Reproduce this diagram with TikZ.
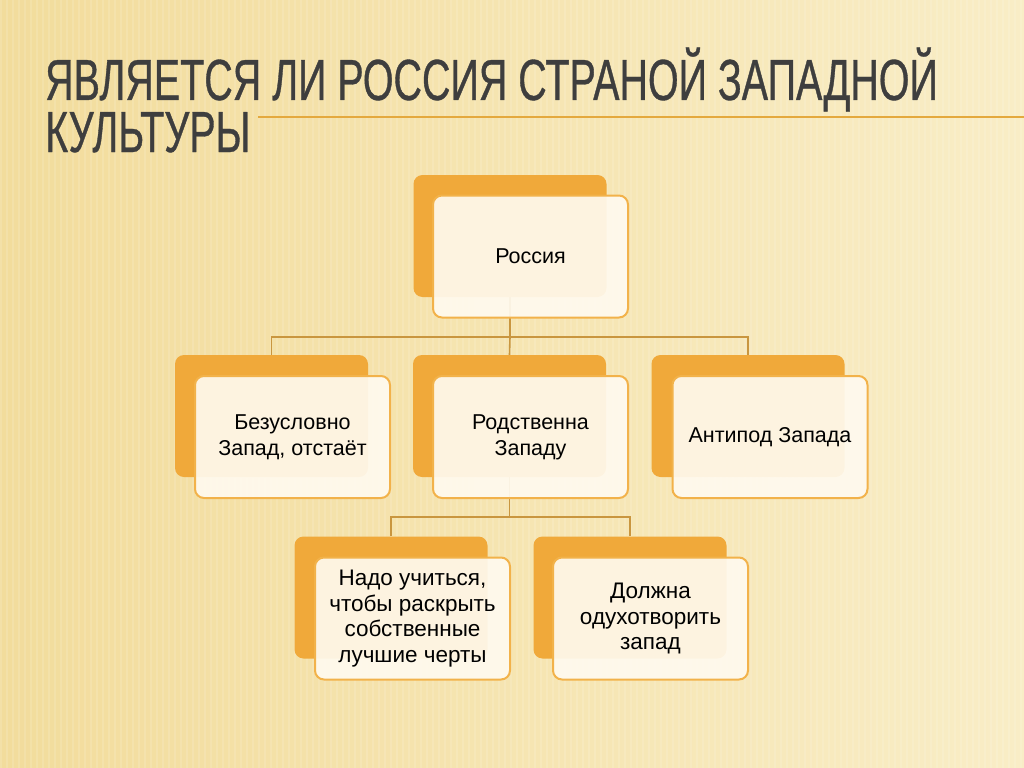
\documentclass[tikz,border=0pt]{standalone}
\usepackage{fontspec}
\setmainfont{Liberation Sans}
\newfontfamily\titlefont[FakeStretch=0.68,FakeBold=0.6]{Liberation Sans}
\definecolor{bgA}{HTML}{F2DC9C}
\definecolor{bgB}{HTML}{F9EDC6}
\definecolor{orangeback}{HTML}{F0A93A}
\definecolor{frontfill}{HTML}{FFFAEF}
\definecolor{frontdraw}{HTML}{F2B24A}
\definecolor{conn}{HTML}{C9963F}
\definecolor{titlecol}{HTML}{3E3E3E}
\definecolor{rulecol}{HTML}{E4A93E}
\begin{document}
\begin{tikzpicture}[x=1bp,y=-1bp,
  backbox/.style={fill=orangeback, draw=none, rounded corners=9bp,
    minimum width=193bp, minimum height=122bp, inner sep=0pt},
  frontbox/.style={fill=frontfill, fill opacity=0.92, text opacity=1,
    draw=frontdraw, line width=2bp, rounded corners=9bp,
    minimum width=195bp, minimum height=122bp, inner sep=0pt,
    align=center, text=black, font=\fontsize{21.5bp}{26bp}\selectfont},
  frontbig/.style={frontbox, font=\fontsize{22.5bp}{25.5bp}\selectfont},
  conline/.style={draw=conn, line width=1.6bp},
  titletext/.style={anchor=base west, inner sep=0pt, text=titlecol, align=left,
    font=\titlefont\fontsize{58bp}{52bp}\selectfont}]
% background
\shade[left color=bgA, right color=bgB] (0,0) rectangle (1024,768);
\useasboundingbox (0,0) rectangle (1024,768);
\foreach \i in {0,6,...,1020}{
  \fill[white, opacity=0.12] (\i,0) rectangle (\i+2,768);
}
% title
\node[titletext] (t1) at (45,152) {ЯВЛЯЕТСЯ ЛИ РОССИЯ СТРАНОЙ ЗАПАДНОЙ\\КУЛЬТУРЫ};
\coordinate (rulestart) at (258,117);
\coordinate (ruleend) at (1024,117);
\draw[rulecol, line width=2bp] (rulestart) -- (ruleend);
% back boxes
\node[backbox] (rb) at (510,236) {};
\node[backbox] (ab) at (271.5,416) {};
\node[backbox] (bb) at (509.5,416) {};
\node[backbox] (cb) at (748,416) {};
\node[backbox] (db) at (391,597.5) {};
\node[backbox] (eb) at (630,597.5) {};
% connectors
\draw[conline] (rb.south) -- ++(0,40) coordinate (j1);
\draw[conline] (ab.north) |- (j1) -| (cb.north);
\draw[conline] (j1) -- (bb.north);
\draw[conline] (bb.south) -- ++(0,40) coordinate (j2);
\draw[conline] (db.north) |- (j2) -| (eb.north);
% front boxes
\node[frontbox] (r) at (530.5,256.5) {Россия};
\node[frontbox] (a) at (292.5,437) {Безусловно\\Запад, отстаёт};
\node[frontbox] (b) at (530.5,437) {Родственна\\Западу};
\node[frontbox] (c) at (770,437) {Антипод Запада};
\node[frontbig] (d) at (412.5,618.5) {Надо учиться,\\чтобы раскрыть\\собственные\\лучшие черты};
\node[frontbig] (e) at (650.5,618.5) {Должна\\одухотворить\\запад};
\end{tikzpicture}
\end{document}
